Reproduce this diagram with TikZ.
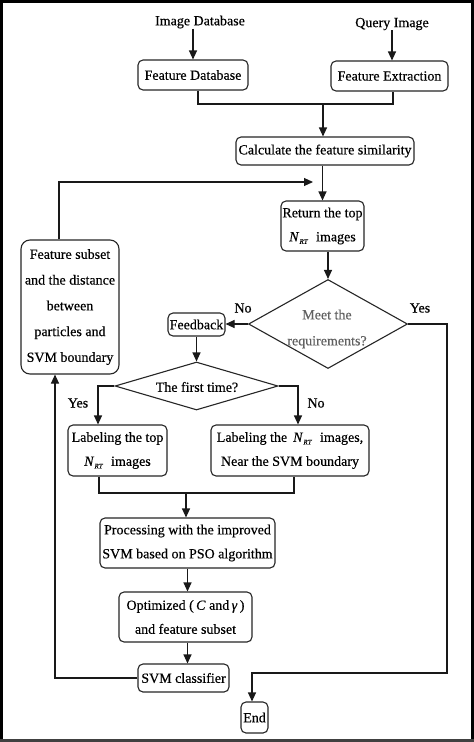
\documentclass[tikz,border=0pt]{standalone}
\usepackage{fontspec}
\setmainfont{Liberation Serif}
\newfontfamily\ser[FakeBold=0.4]{Liberation Serif}
\usetikzlibrary{arrows.meta,shapes.geometric,calc}
\newcommand{\Nrt}{\textit{N}\kern0.3pt\raisebox{-2.5pt}{\fontsize{7}{7}\selectfont\textit{RT}}}
\begin{document}
\begin{tikzpicture}[x=1pt,y=-1pt,
  box/.style={draw=black!85, line width=1.1pt, rounded corners=5pt, inner sep=0pt, align=center, font=\ser\fontsize{14}{24}\selectfont},
  dia/.style={draw=black!85, line width=1.1pt, diamond, inner sep=0pt},
  lbl/.style={inner sep=0pt, align=center, font=\ser\fontsize{14}{24}\selectfont},
  greytxt/.style={lbl, text=black!62, font=\ser\fontsize{14}{26}\selectfont},
  arr/.style={line width=1.1pt, draw=black!90, -{Triangle[length=9pt,width=8pt]}},
  ln/.style={line width=1.1pt, draw=black!90}]
\useasboundingbox (0,0) rectangle (474,742);
\fill[black] (0,0) rectangle (474,742);
\fill[black!75] (0,738.5) rectangle (474,742);
\fill[white] (2.5,3) rectangle (470.5,738.5);

% inputs
\node[lbl] (imgdb) at (200,22) {Image Database};
\node[lbl] (qimg) at (392,24) {Query Image};

% boxes
\node[box, minimum width=110pt, minimum height=30pt] (fdb) at (193,75) {Feature Database};
\node[box, minimum width=117pt, minimum height=30pt] (fext) at (389.5,76) {Feature Extraction};
\node[box, minimum width=178pt, minimum height=28pt] (calc) at (325,151) {Calculate the feature similarity};
\node[box, minimum width=83pt, minimum height=50pt] (ret) at (322.5,226) {Return the top\\\Nrt\hspace{8pt}images};
\node[dia, minimum width=159pt, minimum height=89pt] (d1) at (328,324) {};
\node[greytxt] (d1t) at (327,329) {Meet the\\requirements?};
\node[box, minimum width=57pt, minimum height=23pt] (fb) at (196.5,324.5) {Feedback};
\node[dia, minimum width=163pt, minimum height=48pt] (d2) at (196.5,386) {};
\node[lbl] (d2t) at (197,387) {The first time?};
\node[box, minimum width=99pt, minimum height=51pt] (lab1) at (117.5,450.5) {Labeling the top\\\Nrt\hspace{8pt}images};
\node[box, minimum width=158pt, minimum height=51pt] (lab2) at (290,450.5) {Labeling the\hspace{6pt}\Nrt\hspace{8pt}images,\\Near the SVM boundary};
\node[box, minimum width=175pt, minimum height=50pt] (proc) at (187.5,543) {Processing with the improved\\SVM based on PSO algorithm};
\node[box, minimum width=133pt, minimum height=50pt] (opt) at (185.5,617) {Optimized (\,\textit{C} and\,\textit{γ}\,)\\and feature subset};
\node[box, minimum width=91pt, minimum height=28pt] (svm) at (183.5,678) {SVM classifier};
\node[box, minimum width=27pt, minimum height=31pt] (endn) at (254.5,717.5) {End};
\node[box, rounded corners=9pt, minimum width=98pt, minimum height=134pt, font=\ser\fontsize{14}{25.75}\selectfont] (fs) at (70,307) {Feature subset\\and the distance\\between\\particles and\\SVM boundary};

% branch labels
\node[lbl] (no1) at (243,308) {No};
\node[lbl] (yes1) at (420,308) {Yes};
\node[lbl] (yes2) at (78,403) {Yes};
\node[lbl] (no2) at (316,403) {No};

% coordinates
\coordinate (j1) at (323,104);
\coordinate (j2) at (186,493);
\coordinate (c1) at (447,673);
\coordinate (t1) at (313,182);

% connectors
\draw[arr] (imgdb.south -| fdb.north) -- (fdb.north);
\draw[arr] (qimg.south) -- (qimg.south |- fext.north);
\draw[ln] ([xshift=5pt]fdb.south) |- (j1) -| ([xshift=3.5pt]fext.south);
\draw[arr] (j1) -- (j1 |- calc.north);
\draw[arr] (calc.south -| ret.north) -- (ret.north);
\draw[arr] (ret.south -| d1.north) -- (d1.north);
\draw[arr] (d1.west) -- (d1.west -| fb.east);
\draw[arr] (d1.east) -| (c1) -| ([xshift=-2.5pt]endn.north);
\draw[arr] (fb.south) -- (d2.north);
\draw[arr] (d2.west) -| ([xshift=-19.5pt]lab1.north);
\draw[arr] (d2.east) -| ([xshift=8pt]lab2.north);
\draw[ln] ([xshift=-18.5pt]lab1.south) |- (j2) -| ([xshift=4pt]lab2.south);
\draw[arr] (j2) -- (j2 |- proc.north);
\draw[arr] (proc.south) -- (proc.south |- opt.north);
\draw[arr] (proc.south |- opt.south) -- (proc.south |- svm.north);
\draw[arr] (svm.west) -| ([xshift=-15pt]fs.south);
\draw[arr] ([xshift=-11pt]fs.north) |- (t1);
\end{tikzpicture}
\end{document}
